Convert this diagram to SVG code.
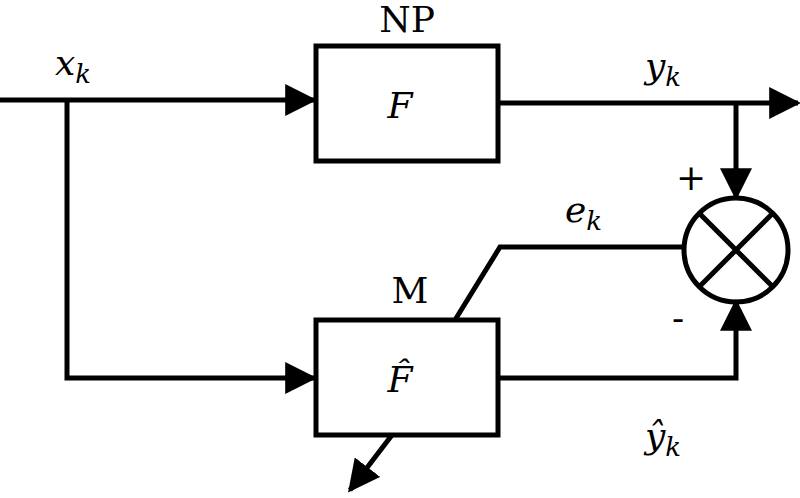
<svg xmlns="http://www.w3.org/2000/svg" width="800" height="498" viewBox="0 0 800 498">
<style>
.l{fill:none;stroke:#000;stroke-width:5}
.t{font-family:"DejaVu Serif","Liberation Serif",serif;font-size:36px;fill:#000}
.i{font-style:italic}
</style>
<defs>
<marker id="b" viewBox="0 0 10 10" refX="9" refY="5" markerWidth="32" markerHeight="32" markerUnits="userSpaceOnUse" orient="auto"><path d="M0,0L10,5L0,10z"/></marker></defs>
<rect width="800" height="498" fill="#fff"/>
<g id="edges">
<path class="l" d="M0,100H314" marker-end="url(#b)"/>
<path class="l" d="M67,100V378H314" marker-end="url(#b)"/>
<path class="l" d="M498,103H798" marker-end="url(#b)"/>
<path class="l" d="M736,103V197" marker-end="url(#b)"/>
<path class="l" d="M498,378H736V302" marker-end="url(#b)"/>
<path class="l" d="M684,247H500L455,320"/>
<path class="l" d="M392,435L350,490" marker-end="url(#b)"/>
</g>
<g id="NP"><rect class="l" x="316" y="46" width="182" height="115"/><text class="t" x="407" y="32" text-anchor="middle" font-family="Liberation Serif">NP</text><text class="t i" x="400" y="118" text-anchor="middle">F</text></g>
<g id="M"><rect class="l" x="316" y="320" width="182" height="115"/><text class="t" x="410" y="303" text-anchor="middle" font-family="Liberation Serif">M</text><text class="t i" x="400" y="392" text-anchor="middle">F̂</text></g>
<g id="sum"><circle class="l" cx="736" cy="250" r="52"/><path class="l" d="M699,213L773,287M773,213L699,287"/></g>
<g id="labels">
<text class="t i" x="55" y="75">x<tspan font-size="26" dy="8">k</tspan></text>
<text class="t i" x="645" y="78">y<tspan font-size="26" dy="8">k</tspan></text>
<text class="t i" x="565" y="222">e<tspan font-size="26" dy="8">k</tspan></text>
<text class="t i" x="645" y="448">ŷ<tspan font-size="26" dy="8">k</tspan></text>
<text class="t" x="676" y="190" font-family="Liberation Sans">+</text>
<text class="t" x="672" y="330" font-family="Liberation Sans">-</text>
</g>
</svg>
